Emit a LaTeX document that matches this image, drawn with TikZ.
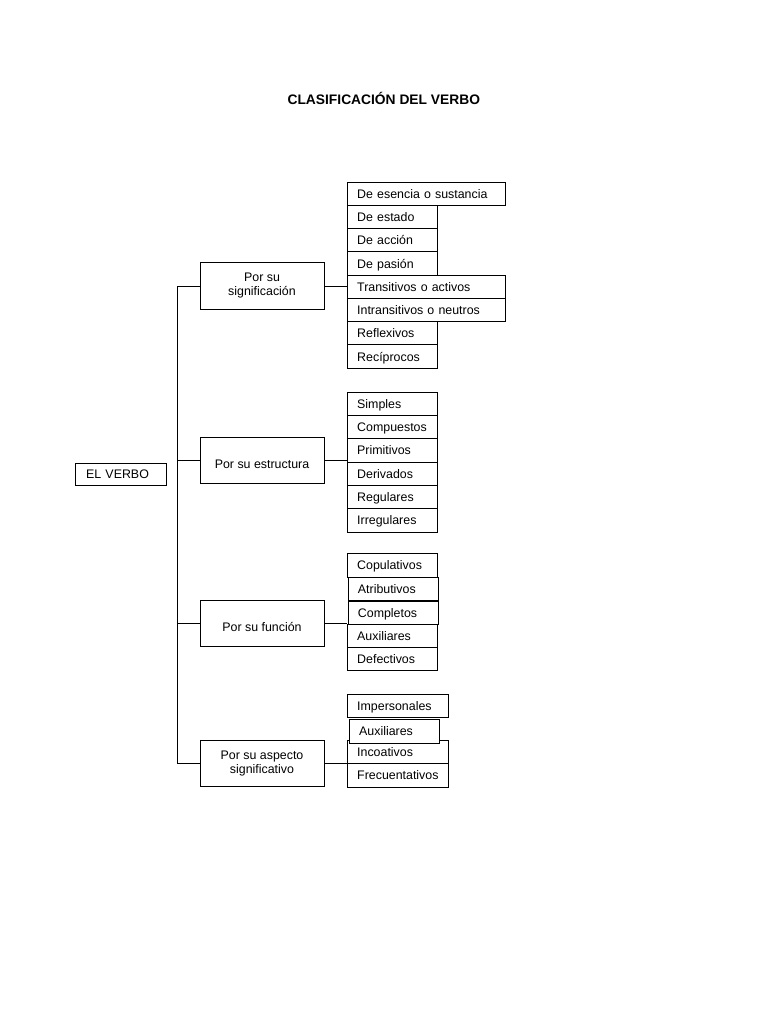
\documentclass[tikz,border=0pt]{standalone}
\usepackage{fontspec}
\setmainfont{Liberation Sans}
\newcommand{\bodyfont}{\fontsize{12.4}{14}\selectfont}
\newcommand{\titlefont}{\fontsize{13.8}{16}\selectfont\bfseries}
\begin{document}
\begin{tikzpicture}[x=1pt,y=-1pt,
  box/.style={draw, line width=1, fill=white, rectangle, font=\bodyfont},
  leaf/.style={box, anchor=north west, inner ysep=0, inner xsep=9.7, minimum height=23.3, text height=10.5, text depth=1.6, align=left, text width=#1},
  group/.style={box, minimum width=124, minimum height=46.6, align=center, inner sep=2},
  oneline/.style={text height=18.5, text depth=1.6},
  conn/.style={line width=1}
]
\useasboundingbox (0,0) rectangle (768,1024);
\fill[white] (0,0) rectangle (768,1024);

\node[font=\titlefont, anchor=base] (title) at (383.8,104.3) {CLASIFICACIÓN DEL VERBO};

% root
\node[leaf=69.6, inner xsep=10.7, minimum height=22, anchor=north west] (root) at (75,463) {EL VERBO};

% groups
\node[group] (sig) at (262,286) {Por su\\significación};
\node[group, oneline] (est) at (262,460.5) {Por su estructura};
\node[group, oneline] (fun) at (262,623.3) {Por su función};
\node[group] (asp) at (262,763.3) {Por su aspecto\\significativo};

% group 1
\node[leaf=138.1] (g1a) at (347,181.7) {De esencia o sustancia};
\node[leaf=70.3] (g1b) at (347,204.9) {De estado};
\node[leaf=70.3] (g1c) at (347,228.2) {De acción};
\node[leaf=70.3] (g1d) at (347,251.4) {De pasión};
\node[leaf=138.1] (g1e) at (347,274.7) {Transitivos o activos};
\node[leaf=138.1] (g1f) at (347,297.9) {Intransitivos o neutros};
\node[leaf=70.3] (g1g) at (347,321.2) {Reflexivos};
\node[leaf=70.3] (g1h) at (347,344.4) {Recíprocos};

% group 2
\node[leaf=70.3] (g2a) at (347,391.7) {Simples};
\node[leaf=70.3] (g2b) at (347,415.0) {Compuestos};
\node[leaf=70.3] (g2c) at (347,438.3) {Primitivos};
\node[leaf=70.3] (g2d) at (347,461.6) {Derivados};
\node[leaf=70.3] (g2e) at (347,484.9) {Regulares};
\node[leaf=70.3] (g2f) at (347,508.2) {Irregulares};

% group 3
\node[leaf=70.3] (g3a) at (347,553.3) {Copulativos};
\node[leaf=70.6] (g3b) at (347.7,577.0) {Atributivos};
\node[leaf=70.6] (g3c) at (347.7,600.7) {Completos};
\node[leaf=70.3] (g3d) at (347,624.0) {Auxiliares};
\node[leaf=70.3] (g3e) at (347,647.0) {Defectivos};

% group 4
\node[leaf=82.0] (g4a) at (347,694.0) {Impersonales};
\node[leaf=82.0] (g4c) at (347,740.0) {Incoativos};
\node[leaf=82.0] (g4d) at (347,763.3) {Frecuentativos};
\node[leaf=70.6] (g4b) at (349,719.3) {Auxiliares};

% connectors right
\draw[conn] (sig.east) -- (sig.east -| g1e.west);
\draw[conn] (est.east) -- (est.east -| g2d.west);
\draw[conn] (fun.east) -- (fun.east -| g3d.west);
\draw[conn] (asp.east) -- (asp.east -| g4d.west);

% trunk
\coordinate (bus) at (177,0);
\draw[conn] (sig.west) -- (sig.west -| bus) -- (asp.west -| bus) -- (asp.west);
\draw[conn] (est.west) -- (est.west -| bus);
\draw[conn] (fun.west) -- (fun.west -| bus);
\end{tikzpicture}
\end{document}
